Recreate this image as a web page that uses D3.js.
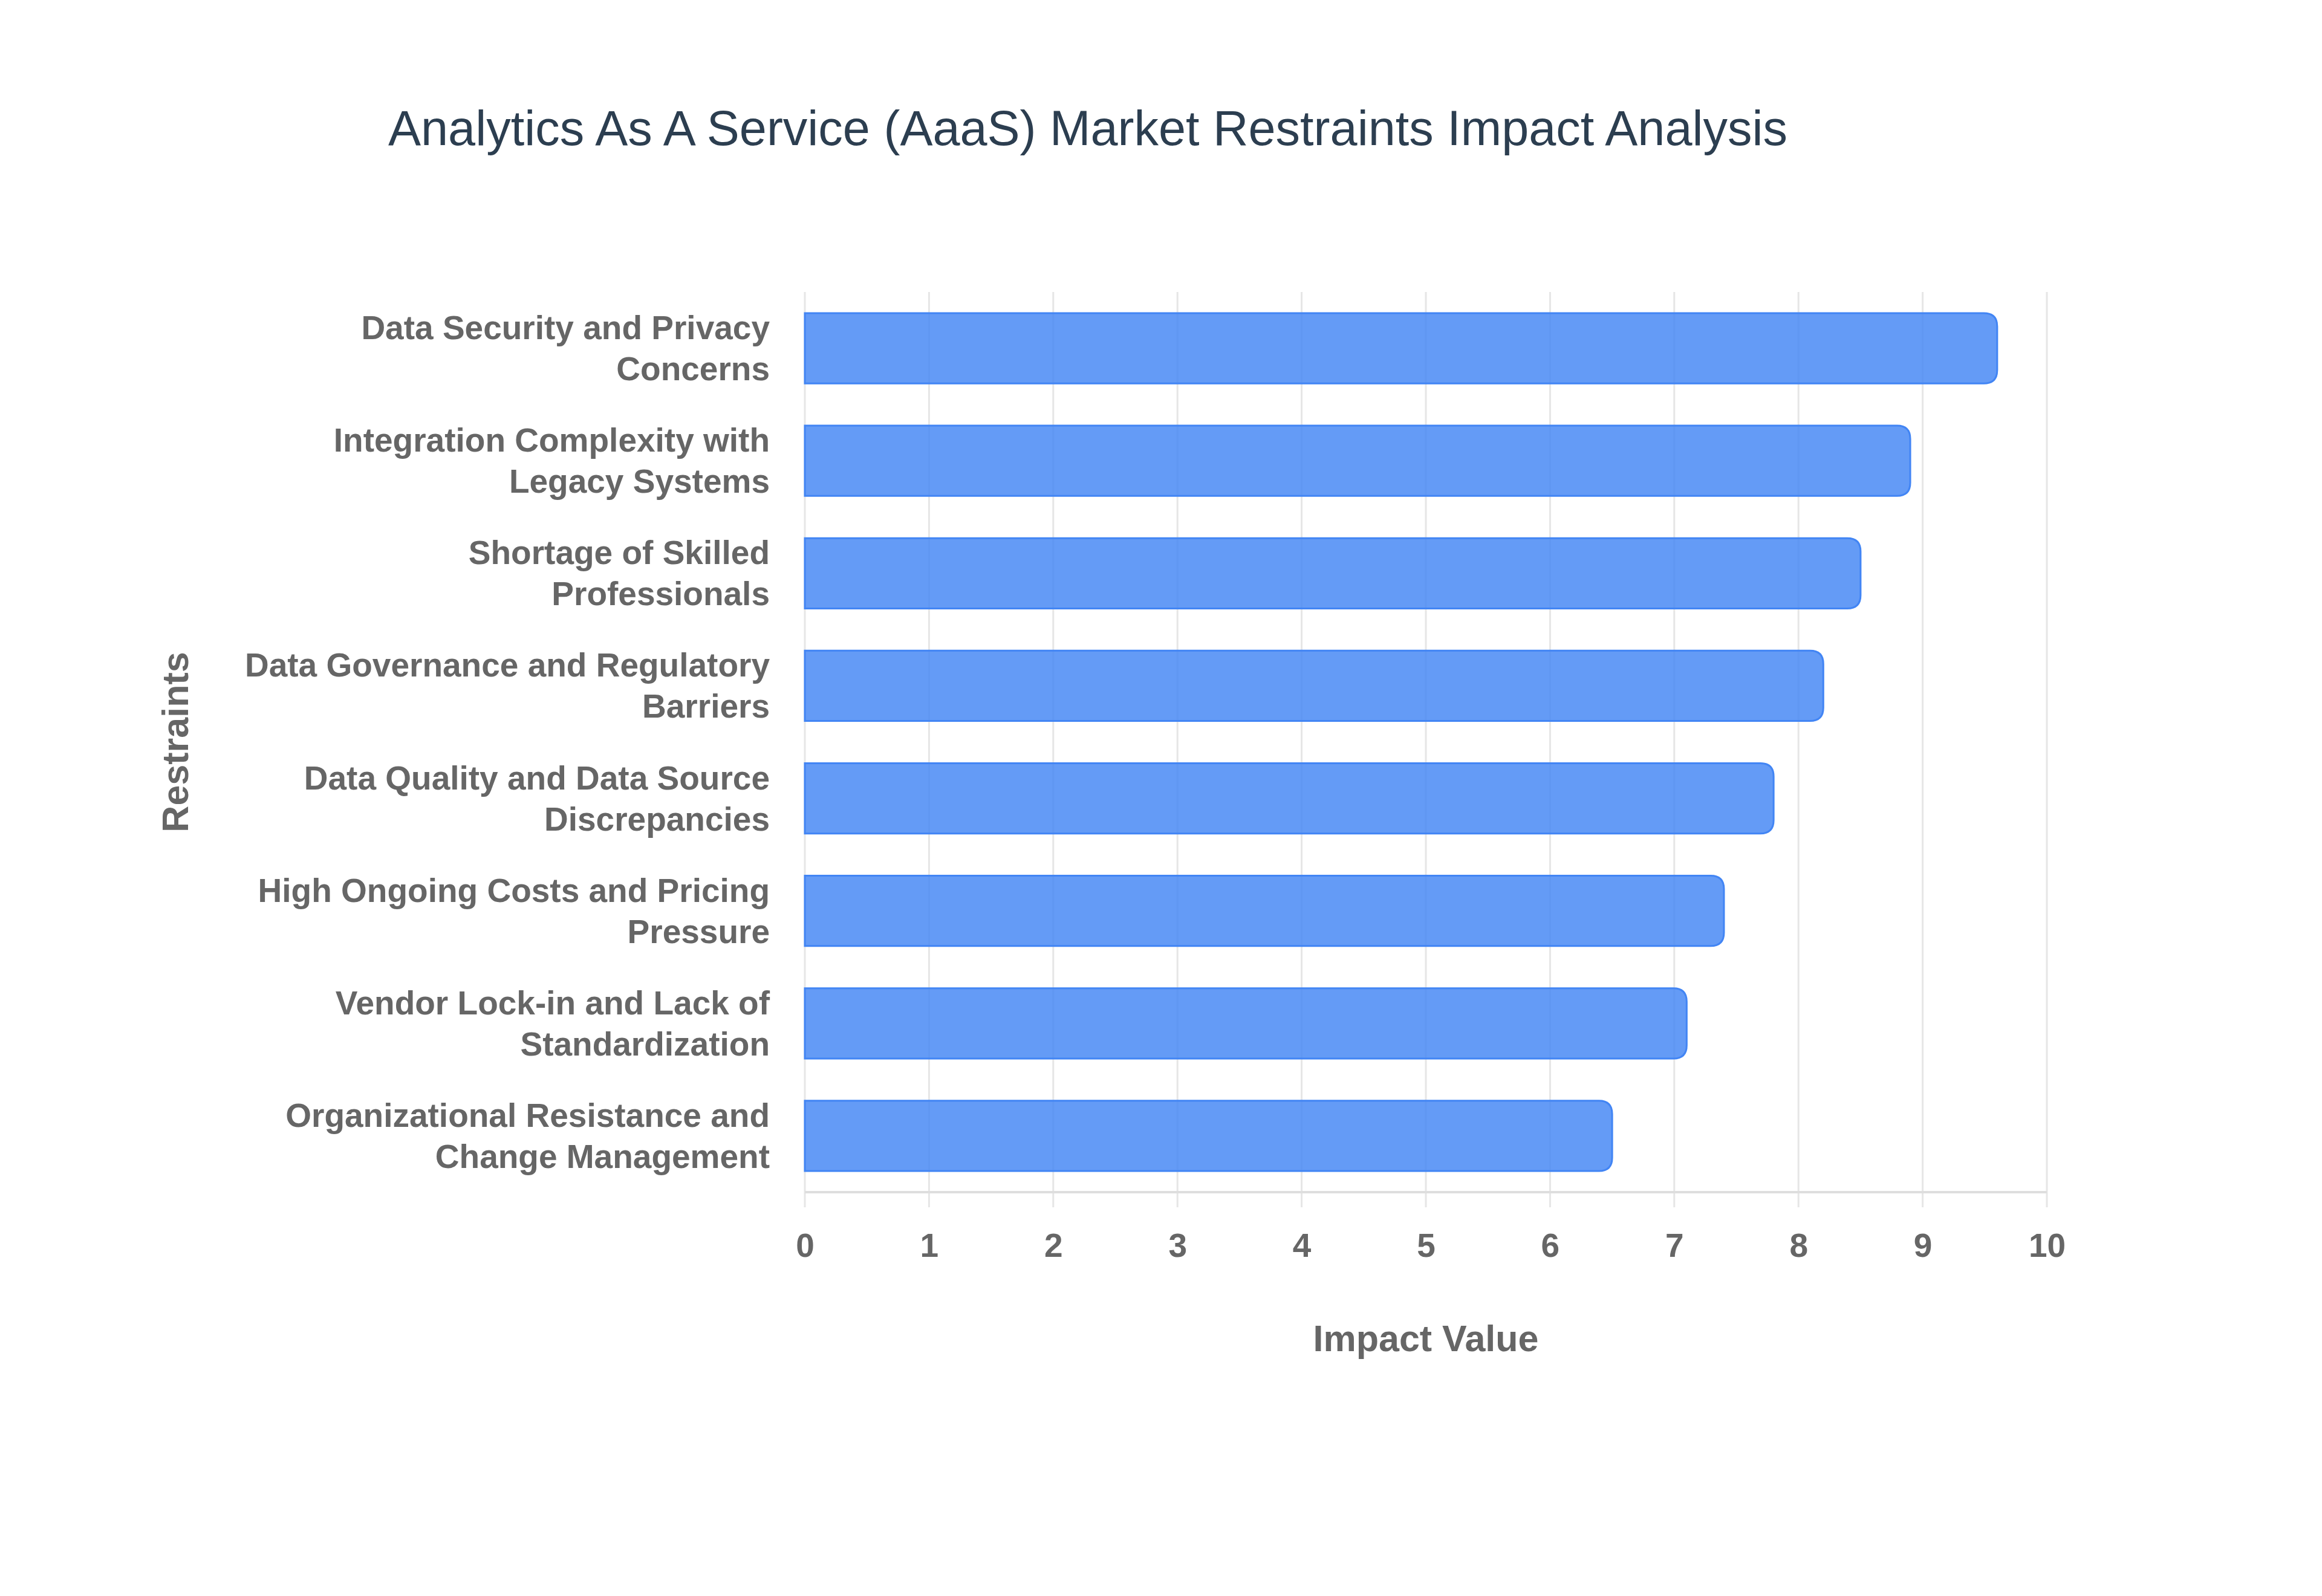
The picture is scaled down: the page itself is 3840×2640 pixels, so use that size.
<!DOCTYPE html>
<html>
<head>
<meta charset="utf-8">
<script src="https://cdn.jsdelivr.net/npm/d3@7"></script>
<style>
  body { margin: 0; background: #fff; }
  text { font-family: "Liberation Sans", Arial, sans-serif; }
</style>
</head>
<body>
<div id="chart"></div>
<script>
// data
const restraints = [
  "Data Security and Privacy Concerns",
  "Integration Complexity with Legacy Systems",
  "Shortage of Skilled Professionals",
  "Data Governance and Regulatory Barriers",
  "Data Quality and Data Source Discrepancies",
  "High Ongoing Costs and Pricing Pressure",
  "Vendor Lock-in and Lack of Standardization",
  "Organizational Resistance and Change Management"
];
const impactValues = [9.6, 8.9, 8.5, 8.2, 7.8, 7.4, 7.1, 6.5];
const xTicks = [0, 1, 2, 3, 4, 5, 6, 7, 8, 9, 10];

const chartTitle = "Analytics As A Service (AaaS) Market Restraints Impact Analysis";
const xTitle = "Impact Value";
const yTitle = "Restraints";

let width = 3840, height = 2640;
let plot = { left: 1331, right: 3385, top: 483, bottom: 1972 };

let svg = d3.select("#chart")
    .append("svg")
    .attr("width", width)
    .attr("height", height);

svg.append("rect").attr("width", width).attr("height", height).attr("fill", "#fff");

let x = d3.scaleLinear()
    .domain([0, 10])
    .range([plot.left, plot.right]);

let y = d3.scaleBand()
    .domain(restraints)
    .range([plot.top, plot.bottom])
    .paddingInner(0.375)
    .paddingOuter(0.1875);

// gridlines (run a bit below the axis line like tick marks)
svg.append("g")
    .selectAll("line")
    .data(xTicks)
    .join("line")
    .attr("x1", d => x(d))
    .attr("x2", d => x(d))
    .attr("y1", plot.top)
    .attr("y2", plot.bottom + 25)
    .attr("stroke", "#e6e6e6")
    .attr("stroke-width", 3);

// bottom axis line
svg.append("line")
    .attr("x1", plot.left)
    .attr("x2", plot.right)
    .attr("y1", plot.bottom)
    .attr("y2", plot.bottom)
    .attr("stroke", "#dedede")
    .attr("stroke-width", 4);

// bars with rounded right end
function barPath(v, top, h) {
    let x0 = x(0), x1 = x(v), r = 22;
    return `M${x0},${top} H${x1 - r} Q${x1},${top} ${x1},${top + r} V${top + h - r} Q${x1},${top + h} ${x1 - r},${top + h} H${x0} Z`;
}

let data = restraints.map((name, i) => ({ name: name, value: impactValues[i] }));

svg.append("g")
    .selectAll("path")
    .data(data)
    .join("path")
    .attr("d", d => barPath(d.value, y(d.name), y.bandwidth()))
    .attr("fill", "#4285F4")
    .attr("fill-opacity", 0.82)
    .attr("stroke", "#4285F4")
    .attr("stroke-width", 3);

// x tick labels
let xAxis = svg.append("g")
    .attr("transform", `translate(0, ${plot.bottom})`)
    .call(d3.axisBottom(x).tickValues(xTicks).tickFormat(d3.format("d")).tickSize(0).tickPadding(68));
xAxis.select(".domain").remove();
xAxis.selectAll("text")
    .attr("fill", "#666")
    .attr("font-size", 55)
    .attr("font-weight", "bold")
    .style("font-family", "'Liberation Sans', Arial, sans-serif");

// wrap category labels greedily at 30 characters
function wrap(label, maxChars) {
    let words = label.split(" "), lines = [], cur = "";
    words.forEach(w => {
        let next = cur ? cur + " " + w : w;
        if (next.length > maxChars && cur) { lines.push(cur); cur = w; }
        else cur = next;
    });
    lines.push(cur);
    return lines;
}

let lineGap = 68;
let yLabels = svg.append("g")
    .selectAll("text")
    .data(restraints)
    .join("text")
    .attr("x", plot.left - 58)
    .attr("y", d => y(d) + y.bandwidth() / 2)
    .attr("text-anchor", "end")
    .attr("fill", "#666")
    .attr("font-size", 55)
    .attr("font-weight", "bold");

yLabels.each(function(d) {
    let lines = wrap(d, 30);
    let t = d3.select(this);
    let first = -((lines.length - 1) / 2) * lineGap;
    lines.forEach((ln, i) => {
        t.append("tspan")
            .attr("x", plot.left - 58)
            .attr("dy", i === 0 ? first + 19 : lineGap)
            .text(ln);
    });
});

// axis titles
svg.append("text")
    .attr("x", (plot.left + plot.right) / 2)
    .attr("y", 2235)
    .attr("text-anchor", "middle")
    .attr("fill", "#666")
    .attr("font-size", 61)
    .attr("font-weight", "bold")
    .text(xTitle);

svg.append("text")
    .attr("transform", `translate(311, ${(plot.top + plot.bottom) / 2}) rotate(-90)`)
    .attr("text-anchor", "middle")
    .attr("fill", "#666")
    .attr("font-size", 61)
    .attr("font-weight", "bold")
    .text(yTitle);

// chart title
svg.append("text")
    .attr("x", 1799)
    .attr("y", 240)
    .attr("text-anchor", "middle")
    .attr("fill", "#2c3e50")
    .attr("font-size", 81)
    .text(chartTitle);
</script>
</body>
</html>
